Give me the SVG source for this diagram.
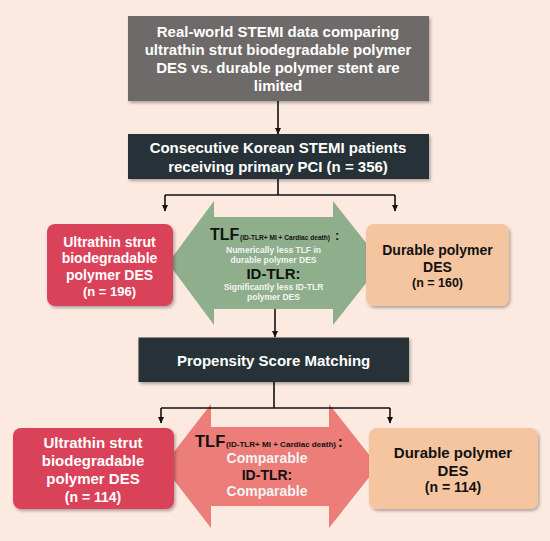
<svg xmlns="http://www.w3.org/2000/svg" width="550" height="541" viewBox="0 0 550 541">
<defs>
<style>
text{font-family:"Liberation Sans",Arial,sans-serif;font-weight:bold;text-anchor:middle}
.w{fill:#ffffff}
.wl{fill:#f4f4f4}
.k{fill:#111111}
.conn{fill:none;stroke:#111;stroke-width:1.6}
.sh{filter:url(#ds)}
</style>
<filter id="ds" x="-10%" y="-10%" width="125%" height="130%">
<feDropShadow dx="1.5" dy="2" stdDeviation="1.5" flood-color="#000" flood-opacity="0.3"/>
</filter>
<marker id="ah" markerWidth="7" markerHeight="7" refX="6" refY="3.5" orient="auto" markerUnits="userSpaceOnUse">
<path d="M0,0.5 L6.5,3.5 L0,6.5 Z" fill="#111"/>
</marker>
</defs>
<rect width="550" height="541" fill="#fce9df"/>

<g id="premise">
<rect class="sh" x="128" y="16" width="301" height="85" fill="#6e6a69"/>
<text class="w" x="278" y="36.5" font-size="15">Real-world STEMI data comparing</text>
<text class="w" x="278" y="55" font-size="15">ultrathin strut biodegradable polymer</text>
<text class="w" x="278" y="73" font-size="15">DES vs. durable polymer stent are</text>
<text class="w" x="278" y="91" font-size="15">limited</text>
</g>

<g id="cohort">
<rect class="sh" x="128" y="134" width="301" height="45" fill="#263238"/>
<text class="w" x="278" y="153" font-size="15">Consecutive Korean STEMI patients</text>
<text class="w" x="278" y="171.5" font-size="15">receiving primary PCI (n = 356)</text>
</g>

<g id="compare1">
<polygon points="168,263 214,201 214,217 333,217 333,201 382,263 333,325 333,309 214,309 214,325" fill="#8fae8b"/>
<text class="k" x="210" y="240" font-size="16" style="text-anchor:start">TLF</text>
<text class="k" x="240" y="240" font-size="7" textLength="90" lengthAdjust="spacingAndGlyphs" style="text-anchor:start">(ID-TLR+ MI + Cardiac death)</text>
<text class="k" x="335" y="240" font-size="13" style="text-anchor:start">:</text>
<text class="wl" x="273.5" y="253" font-size="8.5">Numerically less TLF in</text>
<text class="wl" x="273.5" y="263" font-size="8.5">durable polymer DES</text>
<text class="k" x="273.5" y="279" font-size="15">ID-TLR:</text>
<text class="wl" x="273.5" y="290" font-size="8.5">Significantly less ID-TLR</text>
<text class="wl" x="273.5" y="300" font-size="8.5">polymer DES</text>
</g>

<g id="bp1">
<rect class="sh" x="47" y="224" width="126" height="82" rx="8" fill="#da435a"/>
<text class="w" x="109.5" y="246.5" font-size="14">Ultrathin strut</text>
<text class="w" x="109.5" y="263" font-size="14">biodegradable</text>
<text class="w" x="109.5" y="279.5" font-size="14">polymer DES</text>
<text class="w" x="109.5" y="295.5" font-size="13">(n = 196)</text>
</g>

<g id="dp1">
<rect class="sh" x="366" y="224" width="143" height="82" rx="8" fill="#f5c5a0"/>
<text class="k" x="437.5" y="255" font-size="14">Durable polymer</text>
<text class="k" x="437.5" y="271.5" font-size="14">DES</text>
<text class="k" x="437.5" y="287" font-size="12.5">(n = 160)</text>
</g>

<g id="psm">
<rect class="sh" x="138.5" y="337.5" width="270.5" height="44.5" fill="#263238"/>
<text class="w" x="273.6" y="366" font-size="15">Propensity Score Matching</text>
</g>

<g id="compare2">
<polygon points="163,466 211,404 211,427 329,427 329,404 378,466 329,528 329,506 211,506 211,528" fill="#ec7d78"/>
<text class="k" x="195" y="447" font-size="16.5" style="text-anchor:start">TLF</text>
<text class="k" x="226" y="447" font-size="8" textLength="110" lengthAdjust="spacingAndGlyphs" style="text-anchor:start">(ID-TLR+ MI + Cardiac death)</text>
<text class="k" x="338" y="447" font-size="14" style="text-anchor:start">:</text>
<text class="wl" x="267" y="463" font-size="14">Comparable</text>
<text class="k" x="267" y="480" font-size="14">ID-TLR:</text>
<text class="wl" x="267" y="496" font-size="14">Comparable</text>
</g>

<g id="bp2">
<rect class="sh" x="13" y="428" width="161" height="81" rx="8" fill="#da435a"/>
<text class="w" x="93" y="448" font-size="15">Ultrathin strut</text>
<text class="w" x="93" y="466" font-size="15">biodegradable</text>
<text class="w" x="93" y="484" font-size="15">polymer DES</text>
<text class="w" x="93" y="502" font-size="14">(n = 114)</text>
</g>

<g id="dp2">
<rect class="sh" x="369" y="428" width="169" height="81" rx="8" fill="#f5c5a0"/>
<text class="k" x="453" y="457.5" font-size="15">Durable polymer</text>
<text class="k" x="453" y="475.5" font-size="15">DES</text>
<text class="k" x="453" y="492" font-size="14">(n = 114)</text>
</g>

<g id="connectors">
<line class="conn" x1="278" y1="101" x2="278" y2="134" marker-end="url(#ah)"/>
<polyline class="conn" points="278,179 278,195"/>
<line class="conn" x1="165" y1="195" x2="395" y2="195"/>
<line class="conn" x1="165" y1="195" x2="165" y2="211" marker-end="url(#ah)"/>
<line class="conn" x1="395" y1="195" x2="395" y2="211" marker-end="url(#ah)"/>
<line class="conn" x1="275" y1="309" x2="275" y2="337" marker-end="url(#ah)"/>
<polyline class="conn" points="274,382 274,408"/>
<line class="conn" x1="161" y1="408" x2="390" y2="408"/>
<line class="conn" x1="161" y1="408" x2="161" y2="423" marker-end="url(#ah)"/>
<line class="conn" x1="390" y1="408" x2="390" y2="423" marker-end="url(#ah)"/>
</g>
</svg>
